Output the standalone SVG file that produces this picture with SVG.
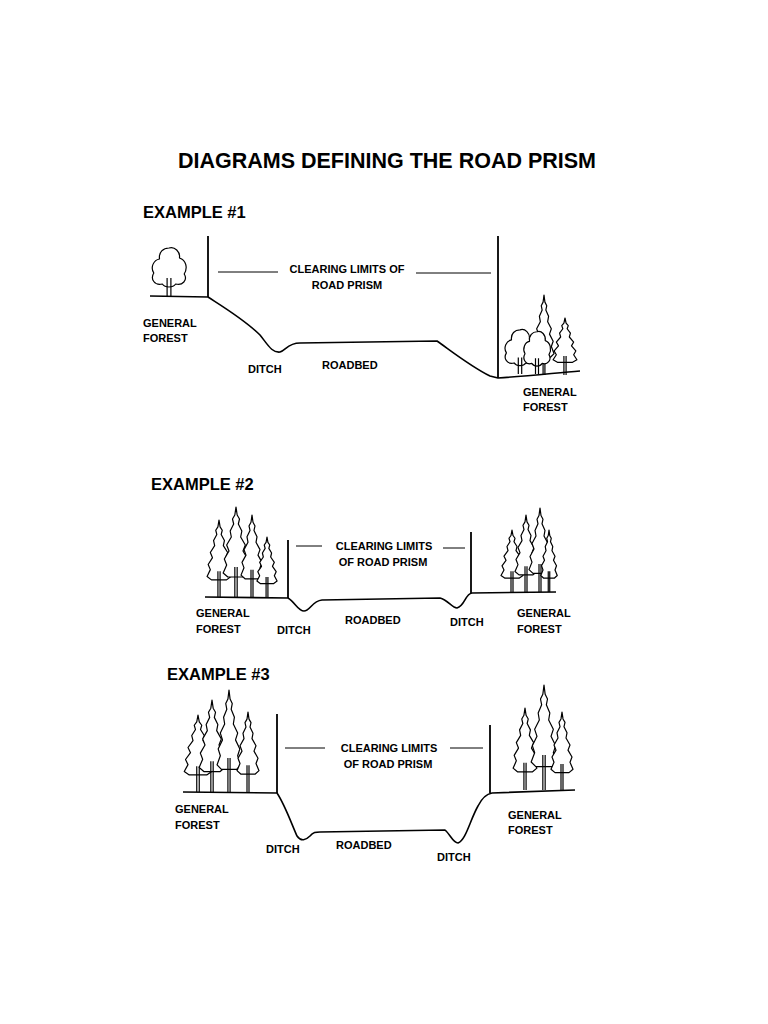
<svg xmlns="http://www.w3.org/2000/svg" xmlns:xlink="http://www.w3.org/1999/xlink" width="768" height="1024" viewBox="0 0 768 1024">
<style>
text{font-family:"Liberation Sans",Arial,sans-serif;font-weight:bold;fill:#000}
.t{font-size:21.5px}.h{font-size:16.5px}.l{font-size:11px}
.g{fill:none;stroke:#000;stroke-width:1.6;stroke-linejoin:round}
.v{stroke:#000;stroke-width:1.8}
.c{stroke:#000;stroke-width:1}
.tr{fill:#fff;stroke:#000;stroke-width:1.2;stroke-linejoin:round;vector-effect:non-scaling-stroke}
</style>
<defs>
<symbol id="conifer" viewBox="0 0 24 90" preserveAspectRatio="none" overflow="visible">
<path class="tr" d="M12,0 L13,8 L15,12 L14,17 L17,24 L16,30 L20,38 L18,44 L22,52 L20,58 L23,66 L19,70 L5,70 L1,66 L4,58 L2,52 L6,44 L4,38 L8,30 L7,24 L10,17 L9,12 L11,8 Z"/>
<path class="tr" d="M11,60 L11,90 M13,60 L13,90"/>
</symbol>
<symbol id="decid" viewBox="0 0 40 50" preserveAspectRatio="none" overflow="visible">
<path class="tr" d="M20,2 C26,0 32,6 31,12 C38,14 40,22 36,28 C40,34 34,40 27,38 C24,42 16,42 13,38 C5,40 0,33 4,27 C0,21 4,14 10,13 C9,6 14,2 20,2 Z"/>
<path class="tr" d="M18,32 L18,50 M22,32 L22,50"/>
</symbol>
</defs>
<rect width="768" height="1024" fill="#fff"/>
<text class="t" x="387" y="168" text-anchor="middle">DIAGRAMS DEFINING THE ROAD PRISM</text>

<g id="example1">
<text class="h" x="143" y="218">EXAMPLE #1</text>
<g id="ex1-left-forest">
<use href="#decid" x="150" y="246" width="38" height="50"/>
<text class="l" x="143" y="327">GENERAL</text><text class="l" x="143" y="342">FOREST</text>
</g>
<g id="ex1-right-forest">
<use href="#decid" x="503" y="328" width="34" height="46"/>
<use href="#conifer" x="533" y="295" width="22" height="80"/>
<use href="#decid" x="522" y="330" width="30" height="44"/>
<use href="#conifer" x="552" y="318" width="26" height="57"/>
<text class="l" x="523" y="396">GENERAL</text><text class="l" x="523" y="411">FOREST</text>
</g>
<path class="g" d="M150,296 L208,297 C225,308 245,320 260,335 C268,345 272,353 280,352 C286,350 288,343 300,343 L437,341 C450,350 470,366 490,376 L498,378 C530,376 555,373 580,371"/>
<g id="ex1-connectors">
<line class="v" x1="208" y1="236" x2="208" y2="297"/>
<line class="v" x1="498" y1="236" x2="498" y2="378"/>
<line class="c" x1="218" y1="272" x2="278" y2="272"/>
<line class="c" x1="416" y1="273" x2="491" y2="273"/>
</g>
<text class="l" x="347" y="273" text-anchor="middle">CLEARING LIMITS OF</text>
<text class="l" x="347" y="289" text-anchor="middle">ROAD PRISM</text>
<text class="l" x="248" y="373">DITCH</text>
<text class="l" x="322" y="369">ROADBED</text>
</g>

<g id="example2">
<text class="h" x="151" y="490">EXAMPLE #2</text>
<g id="ex2-left-forest">
<use href="#conifer" x="206" y="520" width="26" height="77"/>
<use href="#conifer" x="222" y="507" width="28" height="90"/>
<use href="#conifer" x="240" y="515" width="24" height="82"/>
<use href="#conifer" x="256" y="537" width="22" height="60"/>
<text class="l" x="196" y="617">GENERAL</text><text class="l" x="196" y="633">FOREST</text>
</g>
<g id="ex2-right-forest">
<use href="#conifer" x="500" y="530" width="24" height="62"/>
<use href="#conifer" x="514" y="515" width="24" height="77"/>
<use href="#conifer" x="528" y="508" width="24" height="84"/>
<use href="#conifer" x="540" y="530" width="18" height="62"/>
<text class="l" x="517" y="617">GENERAL</text><text class="l" x="517" y="633">FOREST</text>
</g>
<path class="g" d="M205,597 L288,598 C295,602 298,611 304,611 C310,611 312,601 322,600 L440,598 C448,600 452,608 457,608 C465,606 465,594 472,593 L556,592"/>
<g id="ex2-connectors">
<line class="v" x1="288" y1="540" x2="288" y2="598"/>
<line class="v" x1="471" y1="532" x2="471" y2="593"/>
<line class="c" x1="296" y1="546" x2="322" y2="546"/>
<line class="c" x1="443" y1="548" x2="465" y2="548"/>
</g>
<text class="l" x="384" y="550" text-anchor="middle">CLEARING LIMITS</text>
<text class="l" x="383" y="566" text-anchor="middle">OF ROAD PRISM</text>
<text class="l" x="277" y="634">DITCH</text>
<text class="l" x="345" y="624">ROADBED</text>
<text class="l" x="450" y="626">DITCH</text>
</g>

<g id="example3">
<text class="h" x="167" y="680">EXAMPLE #3</text>
<g id="ex3-left-forest">
<use href="#conifer" x="183" y="715" width="30" height="77"/>
<use href="#conifer" x="198" y="700" width="28" height="92"/>
<use href="#conifer" x="216" y="690" width="26" height="102"/>
<use href="#conifer" x="236" y="712" width="24" height="80"/>
<text class="l" x="175" y="813">GENERAL</text><text class="l" x="175" y="829">FOREST</text>
</g>
<g id="ex3-right-forest">
<use href="#conifer" x="512" y="708" width="26" height="82"/>
<use href="#conifer" x="530" y="685" width="28" height="105"/>
<use href="#conifer" x="550" y="712" width="24" height="78"/>
<text class="l" x="508" y="819">GENERAL</text><text class="l" x="508" y="834">FOREST</text>
</g>
<path class="g" d="M183,792 L277,793 C285,805 292,825 297,836 C301,842 306,840 310,836 C313,832 316,832 320,832 L445,830 C450,834 453,843 458,843 C466,840 470,820 478,806 C482,798 486,794 492,793 L575,790"/>
<g id="ex3-connectors">
<line class="v" x1="277" y1="714" x2="277" y2="793"/>
<line class="v" x1="490" y1="725" x2="490" y2="793"/>
<line class="c" x1="285" y1="748" x2="325" y2="748"/>
<line class="c" x1="450" y1="748" x2="483" y2="748"/>
</g>
<text class="l" x="389" y="752" text-anchor="middle">CLEARING LIMITS</text>
<text class="l" x="388" y="768" text-anchor="middle">OF ROAD PRISM</text>
<text class="l" x="266" y="853">DITCH</text>
<text class="l" x="336" y="849">ROADBED</text>
<text class="l" x="437" y="861">DITCH</text>
</g>
</svg>
